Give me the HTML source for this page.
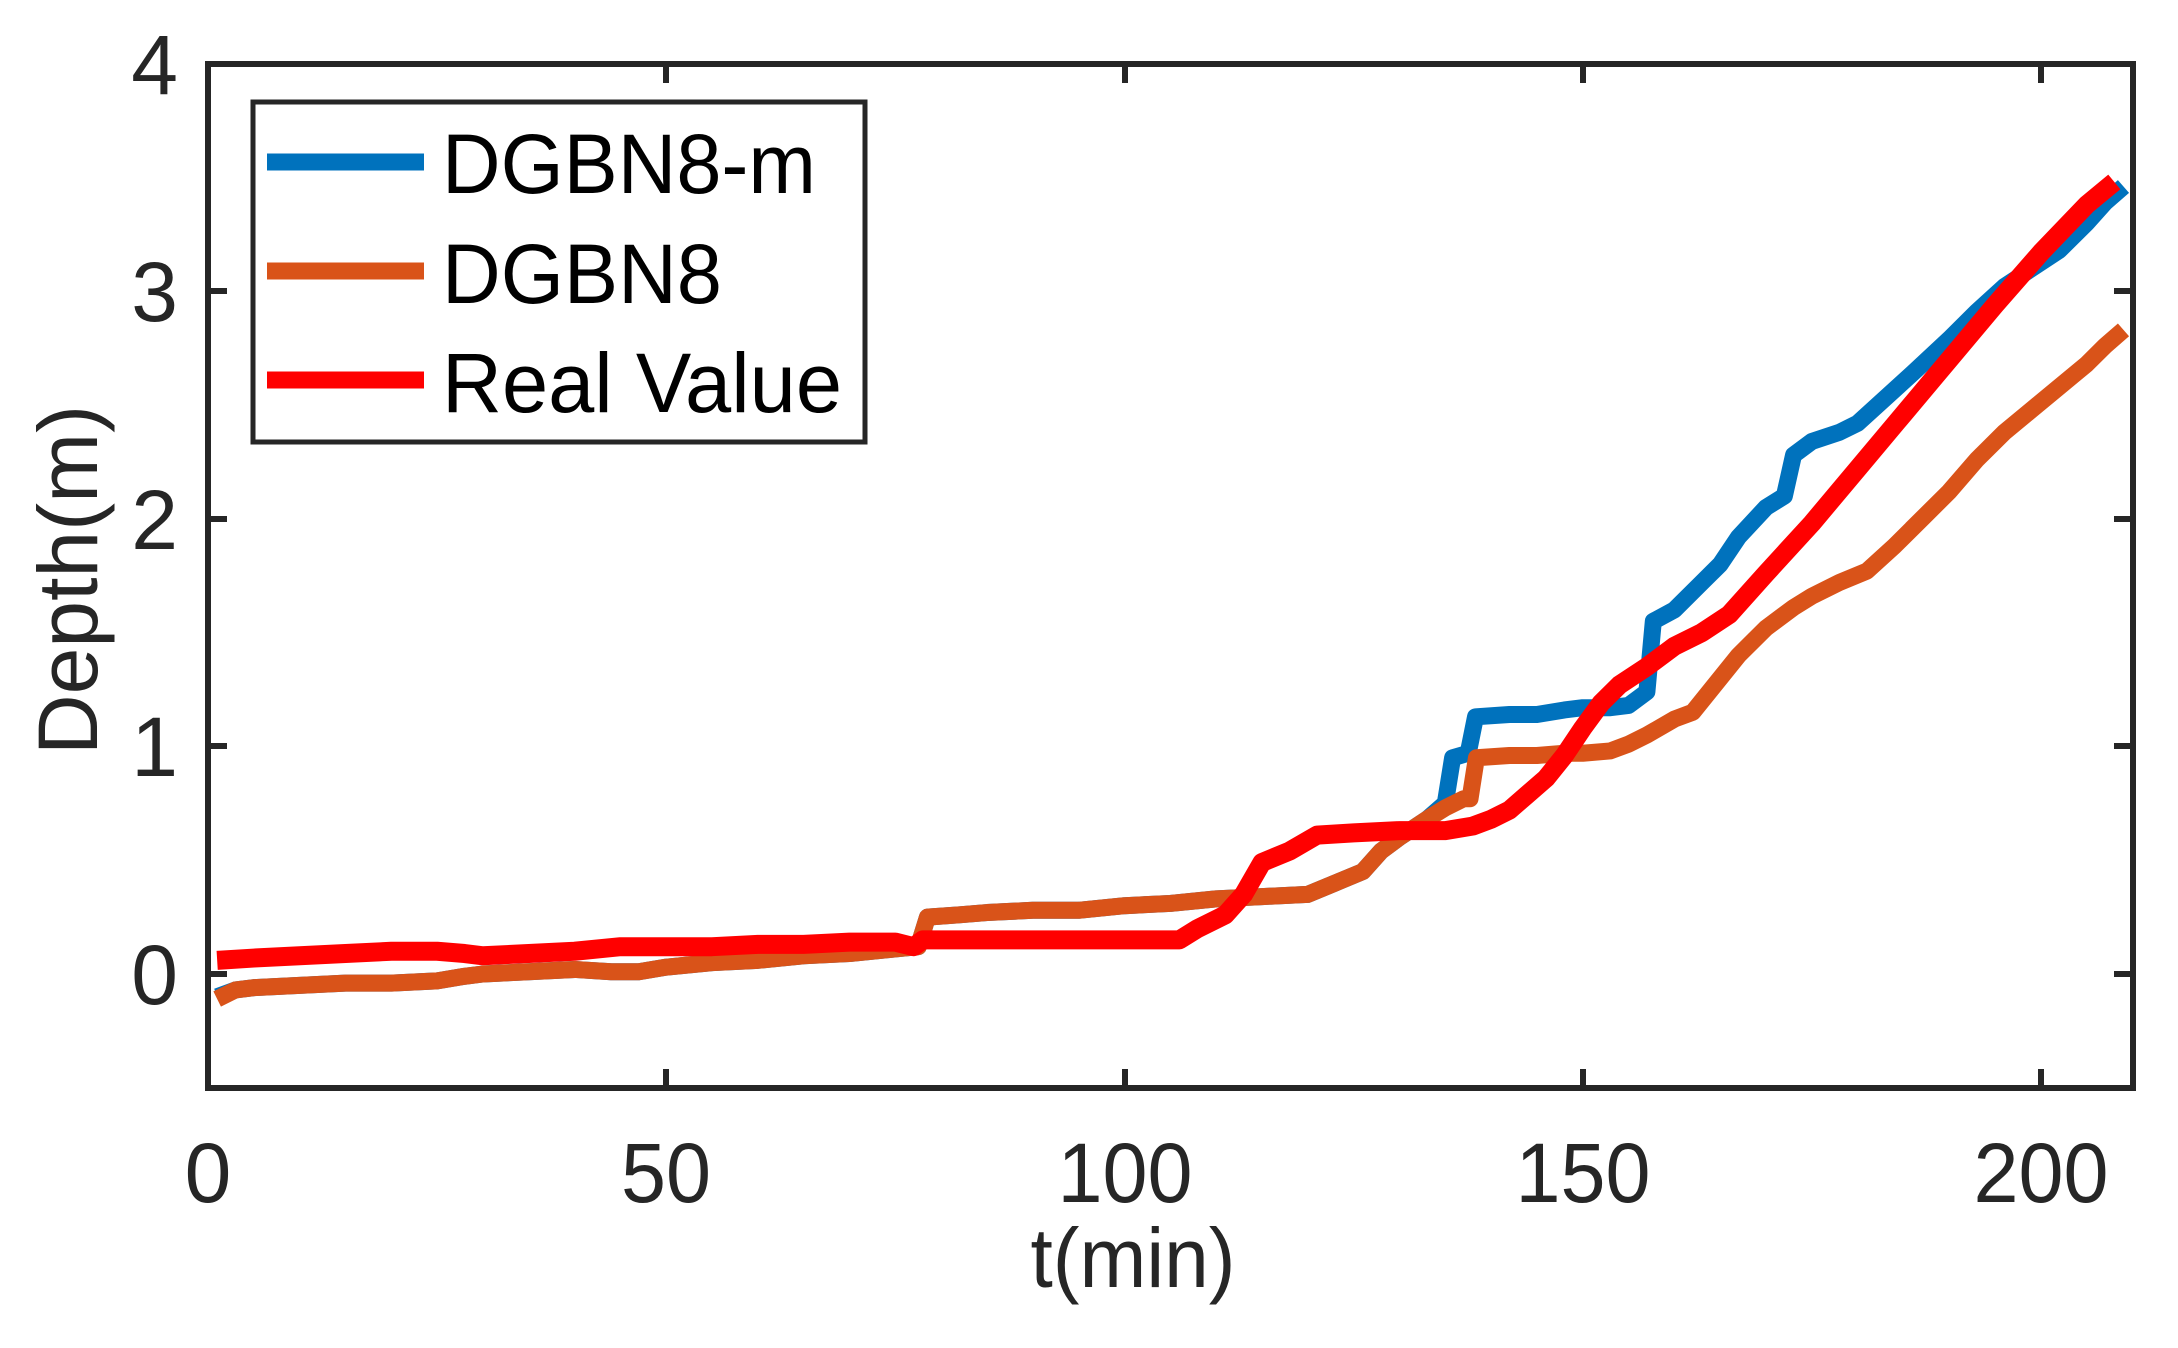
<!DOCTYPE html>
<html><head><meta charset="utf-8"><style>html,body{margin:0;padding:0;background:#fff}svg{display:block}</style></head>
<body>
<svg width="2178" height="1348" viewBox="0 0 2178 1348" xmlns="http://www.w3.org/2000/svg" font-family="Liberation Sans, Arial, sans-serif">
<rect width="2178" height="1348" fill="#fff"/>
<g transform="translate(208,974) scale(9.165,-227.6)" fill="none" stroke-linejoin="round" stroke-linecap="butt">
<polyline vector-effect="non-scaling-stroke" stroke="#0072BD" stroke-width="17" points="1,-0.1 3,-0.07 5,-0.06 10,-0.05 15,-0.04 20,-0.04 25,-0.03 28,-0.01 30,0 35,0.01 40,0.02 44,0.01 47,0.01 50,0.03 55,0.05 60,0.06 65,0.08 70,0.09 75,0.11 77.5,0.12 78.5,0.25 82,0.26 85,0.27 90,0.28 95,0.28 100,0.3 105,0.31 110,0.33 115,0.34 120,0.35 123,0.4 126,0.45 128,0.54 130,0.6 133,0.68 135,0.75 135.8,0.95 137.5,0.97 138.3,1.13 142,1.14 145,1.14 148,1.16 150,1.17 153,1.17 155,1.18 157,1.24 157.7,1.55 160,1.6 163,1.72 165,1.8 167,1.92 170,2.05 172,2.1 173,2.28 175,2.34 178,2.38 180,2.42 183,2.53 186,2.64 190,2.79 193,2.91 196,3.02 199,3.1 202,3.18 205,3.3 207,3.39 209,3.46"/>
<polyline vector-effect="non-scaling-stroke" stroke="#D95319" stroke-width="17" points="1,-0.11 3,-0.07 5,-0.06 10,-0.05 15,-0.04 20,-0.04 25,-0.03 28,-0.01 30,0 35,0.01 40,0.02 44,0.01 47,0.01 50,0.03 55,0.05 60,0.06 65,0.08 70,0.09 75,0.11 77.5,0.12 78.5,0.25 82,0.26 85,0.27 90,0.28 95,0.28 100,0.3 105,0.31 110,0.33 115,0.34 120,0.35 123,0.4 126,0.45 128,0.54 130,0.6 133,0.68 135,0.73 137,0.77 137.7,0.77 138.4,0.95 142,0.96 145,0.96 148,0.97 150,0.97 153,0.98 155,1.01 157,1.05 160,1.12 162,1.15 165,1.3 167,1.4 170,1.52 173,1.61 175,1.66 178,1.72 181,1.77 184,1.88 187,2.0 190,2.12 193,2.26 196,2.38 199,2.48 202,2.58 205,2.68 207,2.76 209,2.83"/>
<polyline vector-effect="non-scaling-stroke" stroke="#FF0000" stroke-width="19" points="1,0.06 5,0.07 10,0.08 15,0.09 20,0.1 25,0.1 28,0.09 30,0.08 35,0.09 40,0.1 45,0.12 50,0.12 55,0.12 60,0.13 65,0.13 70,0.14 75,0.14 77,0.12 78,0.15 85,0.15 95,0.15 106,0.15 108,0.2 111,0.26 113,0.35 115,0.49 118,0.54 121,0.61 125,0.62 130,0.63 135,0.63 138,0.65 140,0.68 142,0.72 144,0.79 146,0.86 148,0.96 150,1.08 152,1.19 154,1.27 157,1.35 160,1.44 163,1.5 166,1.58 170,1.76 175,1.98 180,2.22 185,2.46 190,2.7 195,2.94 200,3.17 205,3.38 208,3.48"/>
</g>
<g stroke="#262626" stroke-width="6" fill="none">
<rect x="208" y="64" width="1925" height="1024"/>
<path d="M208,974h19M2133,974h-19M208,746h19M2133,746h-19M208,519h19M2133,519h-19M208,291h19M2133,291h-19M208,64h19M2133,64h-19"/>
<path d="M208,1088v-19M208,64v19M666,1088v-19M666,64v19M1125,1088v-19M1125,64v19M1583,1088v-19M1583,64v19M2041,1088v-19M2041,64v19"/>
</g>
<g fill="#262626" font-size="84" text-anchor="middle">
<text x="208" y="1202">0</text><text x="666" y="1202" textLength="90" lengthAdjust="spacingAndGlyphs">50</text><text x="1125" y="1202" textLength="135" lengthAdjust="spacingAndGlyphs">100</text><text x="1583" y="1202" textLength="135" lengthAdjust="spacingAndGlyphs">150</text><text x="2041" y="1202" textLength="135" lengthAdjust="spacingAndGlyphs">200</text>
<text x="1133" y="1287" textLength="205" lengthAdjust="spacingAndGlyphs">t(min)</text>
</g>
<g fill="#262626" font-size="84" text-anchor="end">
<text x="178" y="1004">0</text><text x="178" y="776">1</text><text x="178" y="549">2</text><text x="178" y="321">3</text><text x="178" y="94">4</text>
</g>
<text transform="translate(97,580) rotate(-90)" fill="#262626" font-size="84" text-anchor="middle">Depth(m)</text>
<rect x="253" y="102" width="612" height="340" fill="#fff" stroke="#262626" stroke-width="5"/>
<path d="M267,162h157" stroke="#0072BD" stroke-width="17"/>
<path d="M267,271h157" stroke="#D95319" stroke-width="17"/>
<path d="M267,380h157" stroke="#FF0000" stroke-width="17"/>
<g fill="#000" font-size="84">
<text x="442" y="193" textLength="374" lengthAdjust="spacingAndGlyphs">DGBN8-m</text>
<text x="442" y="303" textLength="280" lengthAdjust="spacingAndGlyphs">DGBN8</text>
<text x="442" y="412" textLength="400" lengthAdjust="spacingAndGlyphs">Real Value</text>
</g>
</svg>
</body></html>
